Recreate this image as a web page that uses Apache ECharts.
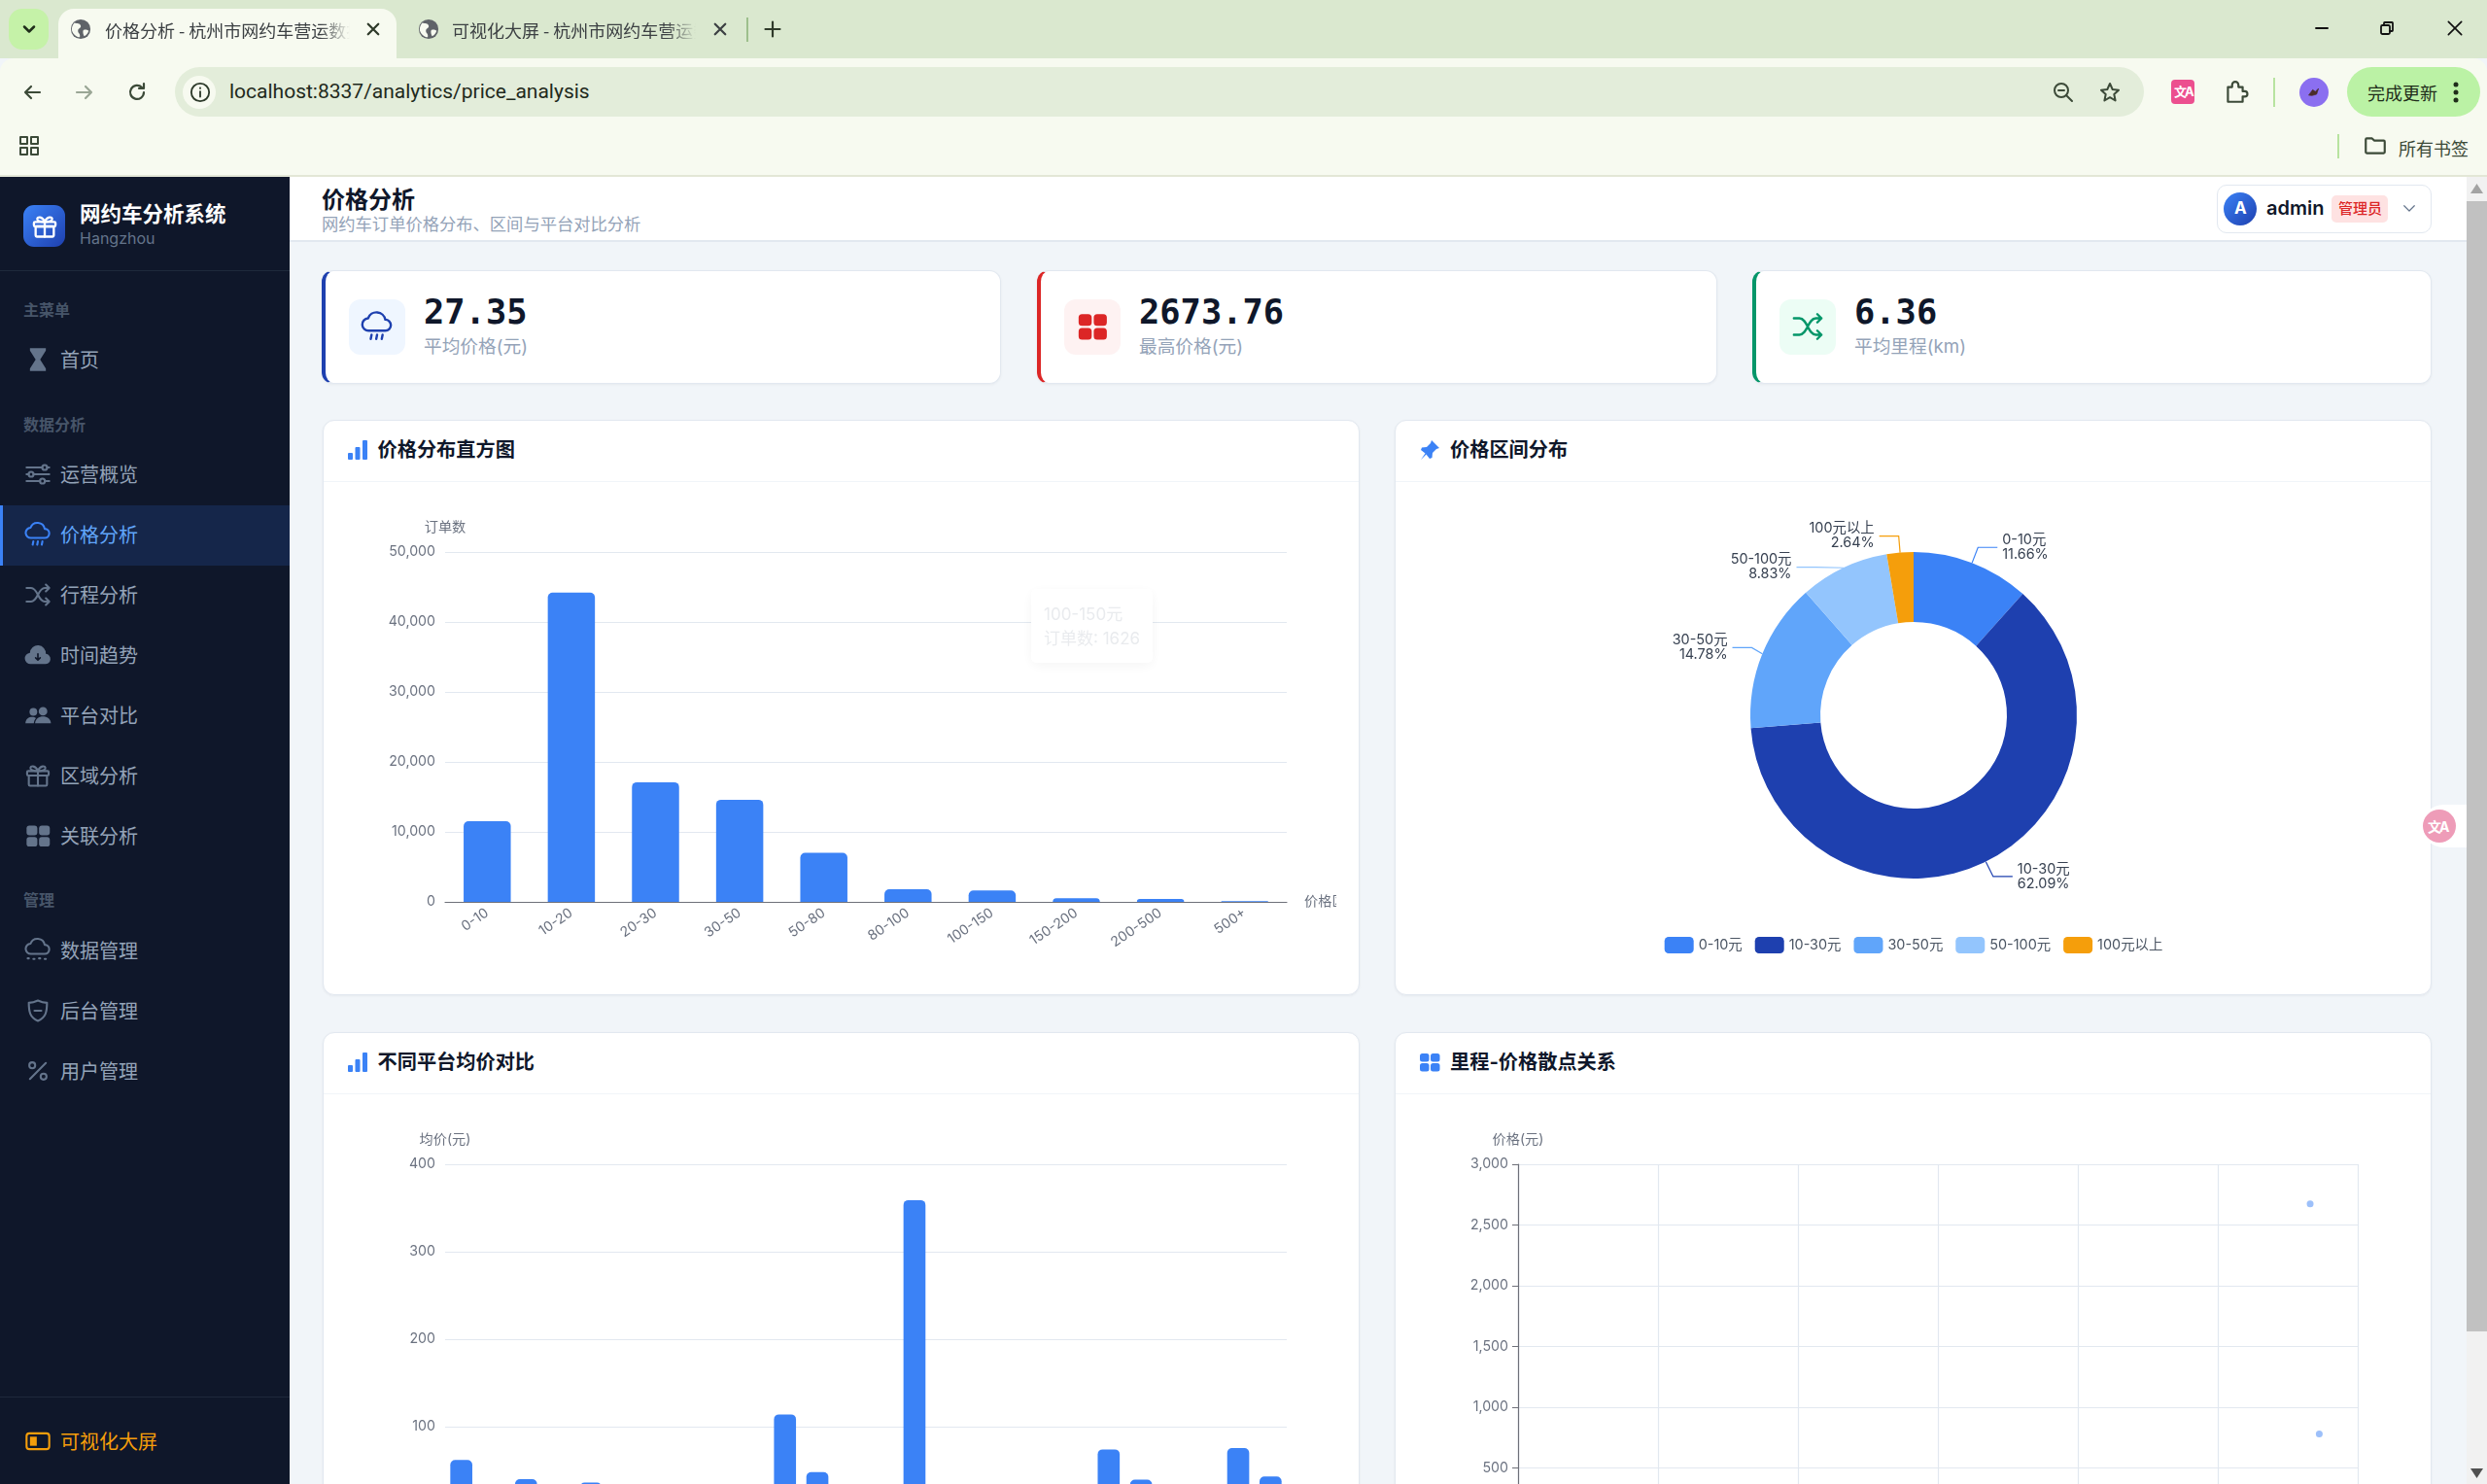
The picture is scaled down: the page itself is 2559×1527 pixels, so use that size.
<!DOCTYPE html>
<html lang="zh-CN"><head><meta charset="utf-8"><title>价格分析</title>
<script src="https://cdn.jsdelivr.net/npm/echarts@6/dist/echarts.min.js"></script>
<style>
html,body{margin:0;padding:0;width:2559px;height:1527px;overflow:hidden;background:#f1f5f9;font-family:Inter,"Noto Sans CJK SC",sans-serif}
.a{position:absolute;white-space:nowrap;line-height:1}
.box{position:absolute;box-sizing:border-box}
.card{position:absolute;box-sizing:border-box;background:#fff;border:1px solid #e2e8f0;border-radius:12px;box-shadow:0 1px 3px rgba(15,23,42,.05)}
.chart{position:absolute}
svg{position:absolute;overflow:visible}
</style></head><body>
<div id="root"></div>
<script>
// ---- chart data ----
const histCategories=['0-10','10-20','20-30','30-50','50-80','80-100','100-150','150-200','200-500','500+'];
const histValues=[11530,44200,17100,14600,7000,1800,1626,530,400,100];
const histTicks=[0,10000,20000,30000,40000,50000];
const pieNames=['0-10元','10-30元','30-50元','50-100元','100元以上'];
const pieValues=[11.66,62.09,14.78,8.83,2.64];
const pieColors=['#3b82f6','#1e40af','#60a5fa','#93c5fd','#f59e0b'];
const platformNames=['平台01','平台02','平台03','平台04','平台05','平台06','平台07','平台08','平台09','平台10','平台11','平台12','平台13','平台14','平台15','平台16','平台17','平台18','平台19','平台20','平台21','平台22','平台23','平台24','平台25','平台26'];
const platformPrices=[62,28,40,26,36,30,27,25,29,31,114,48,28,26,359,30,27,25,32,28,74,39.5,29,27,75.5,43];
const scatterMileage=[113.2,114.5];
const scatterPrice=[2673.76,780];

// ---- page chrome ----
const root=document.getElementById('root');
function el(html){root.insertAdjacentHTML('beforeend',html)}
function box(x,y,w,h,st){el(`<div class="box" style="left:${x}px;top:${y}px;width:${w}px;height:${h}px;${st||''}"></div>`)}
function txt(x,cy,s,size,color,extra){el(`<div class="a" style="left:${x}px;top:${cy-size/2+0.5}px;font-size:${size}px;color:${color};${extra||''}">${s}</div>`)}
function ic(cx,cy,sz,color,body,sw){el(`<svg style="left:${cx-sz/2}px;top:${cy-sz/2}px" width="${sz}" height="${sz}" viewBox="0 0 24 24" fill="none" stroke="${color}" stroke-width="${sw||2}" stroke-linecap="round" stroke-linejoin="round">${body}</svg>`)}
const I={
 hour:c=>`<path d="M5 2h14v2l-5 8 5 8v2H5v-2l5-8-5-8z" fill="${c}" stroke="none"/>`,
 slid:`<path d="M2 6h14M20 6h2M2 12h2M8 12h14M2 18h12M18 18h4"/><circle cx="18" cy="6" r="2.2"/><circle cx="6" cy="12" r="2.2"/><circle cx="16" cy="18" r="2.2"/>`,
 rain:`<path d="M6 15a4.5 4.5 0 0 1-.5-9A6.5 6.5 0 0 1 18 7a4 4 0 0 1 0 8z"/><path d="M8 18l-.6 3M12 18l-.6 3M16 18l-.6 3"/>`,
 shuf:`<path d="M2 6h4c6 0 6 12 12 12h4M2 18h4c6 0 6-12 12-12h4M19 3l3 3-3 3M19 15l3 3-3 3"/>`,
 cdl:c=>`<path d="M6 20a5 5 0 0 1-1-10 7 7 0 0 1 14 1 4.5 4.5 0 0 1-1 9z" fill="${c}" stroke="none"/><path d="M12 11v5M10 14.5l2 2 2-2" stroke="#0f172a" stroke-width="1.4"/>`,
 users:c=>`<g fill="${c}" stroke="none"><circle cx="8" cy="9" r="3.4"/><circle cx="16.5" cy="8.5" r="3.8"/><path d="M1 19c.3-4 3-5.5 6-5.5 1.4 0 2.4.3 3.4 1-1.2 1.2-1.8 2.7-2 4.5z"/><path d="M9.500 19c.3-4 3.300-6 7-6s6.700 2 7 6z"/></g>`,
 gift:`<rect x="2.500" y="8" width="19" height="4" rx="1"/><rect x="4" y="12" width="16" height="9" rx="1"/><path d="M12 8v13M12 8c-2-5-7-5-6.500-2.200C6 8 12 8 12 8zM12 8c2-5 7-5 6.500-2.200C18 8 12 8 12 8z"/>`,
 grid:c=>`<g fill="${c}" stroke="none"><rect x="2" y="3" width="9.500" height="8.500" rx="2.500"/><rect x="13" y="3" width="9.500" height="8.500" rx="2.500"/><rect x="2" y="13" width="9.500" height="8.500" rx="2.500"/><rect x="13" y="13" width="9.500" height="8.500" rx="2.500"/></g>`,
 snow:`<path d="M6 15a4.500 4.500 0 0 1-.5-9A6.500 6.500 0 0 1 18 7a4 4 0 0 1 0 8z"/><path d="M3 19h1M8 19.500h1M13 19h1M18 19.500h1"/>`,
 shield:`<path d="M12 3c3 1.500 6 2 8 2 0 8-1 13-8 16-7-3-8-8-8-16 2 0 5-.5 8-2z"/><path d="M9 12h6"/>`,
 pct:`<path d="M19 5L5 19"/><circle cx="7" cy="7" r="2.600"/><circle cx="17" cy="17" r="2.600"/>`,
 bars:c=>`<g fill="${c}" stroke="none"><rect x="2" y="15" width="5" height="7" rx="1"/><rect x="9.500" y="9" width="5" height="13" rx="1"/><rect x="17" y="2" width="5" height="20" rx="1"/></g>`,
 pin:c=>`<path d="M14 2l8 8-3 1-4 4-.5 5-2.500 1-3.500-4.500L3 22l4.500-6.500L3 12l1-2.500 5-.5 4-4z" fill="${c}" stroke="none"/>`,
};

// browser frame
box(0,0,2559,60,'background:#dae8cf');
box(0,60,2559,121,'background:#f7faf0;border-radius:14px 14px 0 0');
box(0,180,2559,2,'background:#e3e7d6');
box(60,9,348,52,'background:#f7faf0;border-radius:16px 16px 0 0');
box(9,9,41,42,'background:#c5f2a8;border-radius:14px');
ic(30,30,20,'#1f2d1a','<path d="M6 9l6 6 6-6"/>',3);
function globe(x,y){el(`<svg style="left:${x-11}px;top:${y-11}px" width="22" height="22" viewBox="0 0 24 24"><circle cx="12" cy="12" r="11" fill="#5f6368"/><path d="M5 5c3 1 6 0 7 3s-3 3-3 6 3 3 2 7c-4 0-8-4-9-8 0-3 1-6 3-8zM15 13c3-1 5 0 6 1-1 3-3 5-5 6-1-2-2-5-1-7z" fill="#f7faf0"/></svg>`)}
globe(83,30);globe(441,30);
txt(108,30,'<div style="width:252px;overflow:hidden;-webkit-mask-image:linear-gradient(90deg,#000 88%,transparent)">价格分析 - 杭州市网约车营运数据</div>',18,'#3c4043','font-family:\'Noto Sans CJK SC\'');
txt(465,30,'<div style="width:251px;overflow:hidden;-webkit-mask-image:linear-gradient(90deg,#000 88%,transparent)">可视化大屏 - 杭州市网约车营运数据</div>',18,'#3c4043','font-family:\'Noto Sans CJK SC\'');
ic(384,30,18,'#2f3a2a','<path d="M5 5l14 14M19 5L5 19"/>',3);
ic(741,30,18,'#3c4043','<path d="M5 5l14 14M19 5L5 19"/>',3);
box(768,18,2,25,'background:#9dbf8c');
ic(795,30,20,'#2f3a2a','<path d="M12 3v18M3 12h18"/>',2.6);
ic(2389,29,18,'#111','<path d="M4 12h16"/>',2.5);
ic(2456,29,18,'#111','<rect x="4" y="8" width="12" height="12" rx="2"/><path d="M8 8V5a1 1 0 0 1 1-1h10a1 1 0 0 1 1 1v10a1 1 0 0 1-1 1h-3"/>',2.4);
ic(2526,29,20,'#111','<path d="M4 4l16 16M20 4L4 20"/>',2);
ic(33,95,24,'#3c4a38','<path d="M20 12H5M11 6l-6 6 6 6"/>',2.2);
ic(87,95,24,'#9aa695','<path d="M4 12h15M13 6l6 6-6 6"/>',2.2);
ic(141,95,24,'#3c4a38','<path d="M19 12a7 7 0 1 1-2-5M19 3v5h-5"/>',2.2);
box(180,69,2026,51,'background:#e3edda;border-radius:26px');
box(188,78,34,34,'background:#f7faf0;border-radius:50%');
ic(206,95,22,'#2d3a2a','<circle cx="12" cy="12" r="10"/><path d="M12 11v6M12 7v.5"/>',2);
txt(236,94,'localhost:8337/analytics/price_analysis',21,'#1f2a1c','font-family:Roboto');
ic(2123,95,24,'#3c4a38','<circle cx="10" cy="10" r="7"/><path d="M15 15l6 6M7 10h6"/>',2);
ic(2171,95,24,'#3c4a38','<path d="M12 3l2.700 6 6.300.7-4.700 4.300 1.300 6.500-5.600-3.300-5.600 3.300 1.300-6.500L3 9.700 9.300 9z"/>',2);
box(2234,82,24,25,'background:#ec4f8f;border-radius:4px');
txt(2237,94,'文A',13,'#fff','font-weight:700;letter-spacing:-2px');
ic(2300,95,26,'#3c4a38','<path d="M5 7h4V5a3 3 0 0 1 6 0v2h4v4h2a2.500 2.500 0 0 1 0 5h-2v5H5z"/>',2);
box(2339,80,2,30,'background:#b8e3a0');
box(2366,80,30,30,'background:#8b6ff0;border-radius:50%');
ic(2381,95,16,'#4a2c2a','<path d="M4 16l6-8 4 3 5-5-3 9-7 2z" fill="#4a2c2a"/>',1);
box(2415,69,137,51,'background:#bbf2a5;border-radius:26px');
txt(2436,94,'完成更新',18,'#1f2d1a','font-family:\'Noto Sans CJK SC\'');
el('<svg style="left:2524px;top:83px" width="6" height="24"><circle cx="3" cy="4" r="2.500" fill="#1f2d1a"/><circle cx="3" cy="12" r="2.500" fill="#1f2d1a"/><circle cx="3" cy="20" r="2.500" fill="#1f2d1a"/></svg>');
ic(30,150,24,'#3c4a38','<rect x="3" y="3" width="7" height="7"/><rect x="14" y="3" width="7" height="7"/><rect x="3" y="14" width="7" height="7"/><rect x="14" y="14" width="7" height="7"/>',2);
box(2405,138,2,25,'background:#b8e3a0');
ic(2444,150,26,'#3c4a38','<path d="M3 6a1 1 0 0 1 1-1h5l2 2h9a1 1 0 0 1 1 1v10a1 1 0 0 1-1 1H4a1 1 0 0 1-1-1z"/>',2);
txt(2468,151,'所有书签',18,'#3c4a38','font-family:\'Noto Sans CJK SC\'');

// sidebar
box(0,182,298,1345,'background:#0f172a');
box(24,211,43,43,'background:linear-gradient(135deg,#3b82f6,#1e40af);border-radius:11px');
ic(45.500,232.500,28,'#fff',I.gift,2);
txt(82,220,'网约车分析系统',21.5,'#fff','font-weight:700');
txt(82,244,'Hangzhou',16,'#64748b');
box(0,278,298,1,'background:#1e293b');
function sec(cy,s){txt(24,cy,s,16,'#475569','font-weight:600')}
function item(cy,s,icon,color){ic(39,cy,28,color||'#64748b',typeof icon==='function'?icon(color||'#64748b'):icon,1.8);txt(62,cy,s,20,color?(color==='#3b82f6'?'#60a5fa':color):'#94a3b8')}
sec(318,'主菜单');
item(370,'首页',I.hour);
sec(436,'数据分析');
item(488,'运营概览',I.slid);
box(0,520,298,62,'background:#15264a');
box(0,520,3,62,'background:#3b82f6');
item(550,'价格分析',I.rain,'#3b82f6');
item(612,'行程分析',I.shuf);
item(674,'时间趋势',I.cdl);
item(736,'平台对比',I.users);
item(798,'区域分析',I.gift);
item(860,'关联分析',I.grid);
sec(925,'管理');
item(978,'数据管理',I.snow);
item(1040,'后台管理',I.shield);
item(1102,'用户管理',I.pct);
box(0,1437,298,1,'background:#1e293b');
ic(39,1483,28,'#f59e0b','<rect x="2" y="5" width="20" height="14" rx="2.500"/><rect x="5" y="8" width="6" height="8" fill="#f59e0b" stroke="none"/>',1.8);
txt(62,1483,'可视化大屏',20,'#f59e0b');

// top bar
box(298,182,2240,67,'background:#fff;border-bottom:2px solid #e2e8f0');
txt(331,205,'价格分析',24,'#0f172a','font-weight:700');
txt(331,230,'网约车订单价格分布、区间与平台对比分析',17.3,'#94a3b8');
box(2281,190,221,50,'background:#fff;border:1px solid #e2e8f0;border-radius:10px');
box(2288,198,34,34,'background:linear-gradient(135deg,#3b82f6,#1e40af);border-radius:50%');
txt(2299,214,'A',17,'#fff','font-weight:700');
txt(2332,213,'admin',20,'#0f172a','font-weight:600');
box(2399,201,58,28,'background:#fee2e2;border-radius:5px');
txt(2406,214,'管理员',15,'#dc2626','font-weight:500');
ic(2479,214,18,'#64748b','<path d="M5 9l7 7 7-7"/>',1.6);

// stat cards
function stat(x,w,border,tint,color,icon,val,label){
 el(`<div class="card" style="left:${x}px;top:278px;width:${w}px;height:117px;border-left:4px solid ${border}"></div>`);
 box(x+28,308,58,57,`background:${tint};border-radius:12px`);
 ic(x+57,336,34,color,typeof icon==='function'?icon(color):icon,1.7);
 txt(x+105,320,val,35.4,'#0f172a','font-family:\'DejaVu Sans Mono\';font-weight:700');
 txt(x+105,357,label,18.7,'#94a3b8');
}
stat(331,699,'#1e40af','#eff6ff','#1e40af',I.rain,'27.35','平均价格(元)');
stat(1067,700,'#dc2626','#fef2f2','#dc2626',I.grid,'2673.76','最高价格(元)');
stat(1803,699,'#059669','#ecfdf5','#059669',I.shuf,'6.36','平均里程(km)');

// chart cards
function card(x,y,w,h,title,icon,id){
 el(`<div class="card" style="left:${x}px;top:${y}px;width:${w}px;height:${h}px"></div>`);
 box(x+1,y+63,w-2,1,'background:#f1f5f9');
 ic(x+36,y+31,24,'#3b82f6',icon('#3b82f6'),1);
 txt(x+57,y+31,title,20.2,'#0f172a','font-weight:700');
 el(`<div id="${id}" class="chart" style="left:${x+25}px;top:${y+89}px;width:1018px;height:480px"></div>`);
}
card(331.5,432,1067,592,'价格分布直方图',I.bars,'c1');
card(1435,432,1067,592,'价格区间分布',I.pin,'c2');
card(331.5,1062,1067,592,'不同平台均价对比',I.bars,'c3');
card(1435,1062,1067,592,'里程-价格散点关系',I.grid,'c4');

// faded tooltip
el(`<div class="box" style="left:1061px;top:606px;width:125px;height:76px;background:#fff;border-radius:5px;box-shadow:0 3px 14px rgba(0,0,0,.05);opacity:.98"></div>`);
txt(1074,632,'100-150元',17,'#e9ebee');
txt(1074,657,'订单数: 1626',17,'#e9ebee');

// scrollbar + floating button
box(2538,182,21,1345,'background:#f1f1f1');
box(2538,207,21,1163,'background:#c1c1c1');
el('<svg style="left:2542px;top:189px" width="13" height="10"><path d="M6.500 0L13 10H0z" fill="#a3a3a3"/></svg>');
el('<svg style="left:2542px;top:1511px" width="13" height="10"><path d="M6.500 10L13 0H0z" fill="#505050"/></svg>');
box(2492,828,46,44,'background:#fff;border-radius:22px 0 0 22px');
box(2493,833,34,34,'background:#ee9cb8;border-radius:50%');
txt(2498,850,'文A',14,'#fff','font-weight:700;letter-spacing:-2px');

// ---- charts ----
const FONT='Inter, "Noto Sans CJK SC", sans-serif';
const TICK='#6b7280',SPLIT='#e2e8f0',AXIS='#6e7079',FS=14.2;
const yBase={type:'value',nameTextStyle:{color:TICK,fontSize:FS,fontFamily:FONT},nameGap:18,
 axisLabel:{color:TICK,fontSize:FS,fontFamily:FONT,margin:10,formatter:v=>v.toLocaleString('en-US')},
 splitLine:{lineStyle:{color:SPLIT,width:1.2}}};
const xBase={axisLine:{lineStyle:{color:AXIS,width:1.2}},axisTick:{length:6,lineStyle:{color:AXIS,width:1.2}},
 axisLabel:{color:TICK,fontSize:FS,fontFamily:FONT,rotate:34,margin:10},
 nameTextStyle:{color:TICK,fontSize:FS,fontFamily:FONT},nameGap:18};
const mk=id=>echarts.init(document.getElementById(id));

mk('c1').setOption({animation:false,
 grid:{left:101,top:47,width:866,height:360,outerBoundsMode:'none'},
 xAxis:{...xBase,type:'category',data:histCategories,name:'价格区间(元)'},
 yAxis:{...yBase,name:'订单数',min:histTicks[0],max:histTicks[5],interval:histTicks[1]},
 series:[{type:'bar',data:histValues,barWidth:'56%',itemStyle:{color:'#3b82f6',borderRadius:[5,5,0,0]}}]});

mk('c2').setOption({animation:false,color:pieColors,
 legend:{bottom:15,itemWidth:30,itemHeight:17,itemGap:13,textStyle:{color:'#4b5563',fontSize:14.4,fontFamily:FONT},
  itemStyle:{borderRadius:4},data:pieNames},
 series:[{type:'pie',center:[509,215],radius:[96,168],startAngle:90,
  data:pieNames.map((n,i)=>({name:n,value:pieValues[i]})),
  label:{formatter:'{b}\n{d}%',color:'#374151',fontSize:14.4,lineHeight:15,fontFamily:FONT},
  labelLine:{length:17,length2:20,lineStyle:{width:1.2}}}]});

mk('c3').setOption({animation:false,
 grid:{left:101,top:47,width:866,height:360,outerBoundsMode:'none'},
 xAxis:{...xBase,type:'category',data:platformNames},
 yAxis:{...yBase,name:'均价(元)',min:0,max:400,interval:100},
 series:[{type:'bar',data:platformPrices,barWidth:'68%',itemStyle:{color:'#3b82f6',borderRadius:[5,5,0,0]}}]});

mk('c4').setOption({animation:false,
 grid:{left:102,top:47,width:864,height:375,outerBoundsMode:'none'},
 xAxis:{type:'value',min:0,max:120,interval:20,axisLine:{lineStyle:{color:AXIS}},
  axisLabel:{color:TICK,fontSize:FS,fontFamily:FONT},splitLine:{lineStyle:{color:SPLIT,width:1.2}}},
 yAxis:{...yBase,name:'价格(元)',min:0,max:3000,interval:500,axisLine:{show:true,lineStyle:{color:AXIS,width:1.2}},axisTick:{show:true,length:6,lineStyle:{color:AXIS}}},
 series:[{type:'scatter',symbolSize:7,data:scatterMileage.map((x,i)=>[x,scatterPrice[i]]),itemStyle:{color:'#3b82f6',opacity:.5}}]});
</script></body></html>
